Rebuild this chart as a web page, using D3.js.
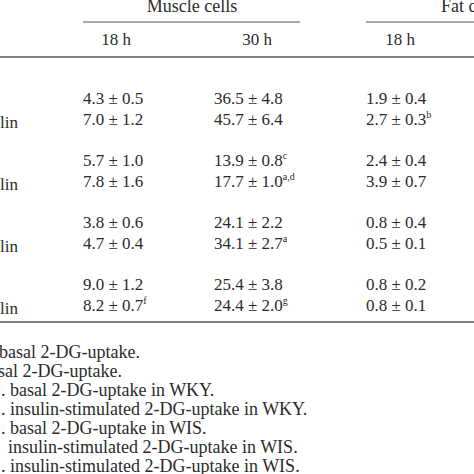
<!DOCTYPE html>
<html><head><meta charset="utf-8">
<script src="https://cdn.jsdelivr.net/npm/d3@7"></script>
<style>body{margin:0;background:#fff}text{font-family:"Liberation Serif","DejaVu Serif",serif;fill:#2b2b2b}</style>
</head><body><svg id="t"></svg>
<script>
const groups = ["Muscle cells", "Fat c"];
const timeLabels = ["18 h", "30 h", "18 h"];
const rowLabels = ["", "lin", "", "lin", "", "lin", "", "lin"];
const col18 = ["4.3 \u00b1 0.5","7.0 \u00b1 1.2","5.7 \u00b1 1.0","7.8 \u00b1 1.6","3.8 \u00b1 0.6","4.7 \u00b1 0.4","9.0 \u00b1 1.2","8.2 \u00b1 0.7"];
const sup18 = ["","","","","","","","f"];
const col30 = ["36.5 \u00b1 4.8","45.7 \u00b1 6.4","13.9 \u00b1 0.8","17.7 \u00b1 1.0","24.1 \u00b1 2.2","34.1 \u00b1 2.7","25.4 \u00b1 3.8","24.4 \u00b1 2.0"];
const sup30 = ["","","c","a,d","","a","","g"];
const fat18 = ["1.9 \u00b1 0.4","2.7 \u00b1 0.3","2.4 \u00b1 0.4","3.9 \u00b1 0.7","0.8 \u00b1 0.4","0.5 \u00b1 0.1","0.8 \u00b1 0.2","0.8 \u00b1 0.1"];
const supFat = ["","b","","","","","",""];
// [x, anchor, text]
const footnotes = [
  [140, "end", "basal 2-DG-uptake."],
  [122, "end", "basal 2-DG-uptake."],
  [1, "start", ". basal 2-DG-uptake in WKY."],
  [1, "start", ". insulin-stimulated 2-DG-uptake in WKY."],
  [1, "start", ". basal 2-DG-uptake in WIS."],
  [8, "start", "insulin-stimulated 2-DG-uptake in WIS."],
  [1, "start", ". insulin-stimulated 2-DG-uptake in WIS."]
];

const W = 474, H = 474;
const fs = 17;
const svg = d3.select("#t").attr("width", W).attr("height", H);

const rowY = d3.scalePoint().domain(d3.range(4)).range([104, 290]);
const yOf = i => rowY(Math.floor(i / 2)) + (i % 2) * 21;
const colX = d3.scaleOrdinal().domain([0, 1, 2]).range([83, 214, 366]);
const headX = d3.scaleOrdinal().domain([0, 1, 2]).range([116, 257, 400]);

// group headers
svg.append("text").attr("x", 192).attr("y", 12).attr("text-anchor", "middle").attr("font-size", 18).text(groups[0]);
svg.append("text").attr("x", 441).attr("y", 12).attr("font-size", 18).text(groups[1]);
svg.append("line").attr("x1", 83).attr("x2", 300).attr("y1", 22).attr("y2", 22).attr("stroke", "#555").attr("stroke-width", 1.2);
svg.append("line").attr("x1", 366).attr("x2", 474).attr("y1", 22).attr("y2", 22).attr("stroke", "#555").attr("stroke-width", 1.2);

svg.selectAll(".th").data(timeLabels).join("text")
  .attr("x", (d, i) => headX(i)).attr("y", 45).attr("text-anchor", "middle").attr("font-size", fs).text(d => d);

svg.append("line").attr("x1", 0).attr("x2", W).attr("y1", 57).attr("y2", 57).attr("stroke", "#555").attr("stroke-width", 1.6);

svg.selectAll(".rl").data(rowLabels).join("text")
  .attr("x", 0).attr("y", (d, i) => yOf(i) + 3).attr("font-size", fs).text(d => d);

[[col18, sup18], [col30, sup30], [fat18, supFat]].forEach(([vals, sups], c) => {
  const t = svg.selectAll(".c" + c).data(vals).join("text")
    .attr("x", colX(c)).attr("y", (d, i) => yOf(i)).attr("font-size", fs);
  t.append("tspan").text(d => d);
  t.append("tspan").attr("font-size", 10).attr("dy", -7).text((d, i) => sups[i]);
});

svg.append("line").attr("x1", 0).attr("x2", W).attr("y1", 322).attr("y2", 322).attr("stroke", "#555").attr("stroke-width", 1.6);

svg.selectAll(".fn").data(footnotes).join("text")
  .attr("x", d => d[0]).attr("text-anchor", d => d[1])
  .attr("y", (d, i) => 358 + i * 19).attr("font-size", 18).text(d => d[2]);
</script></body></html>
